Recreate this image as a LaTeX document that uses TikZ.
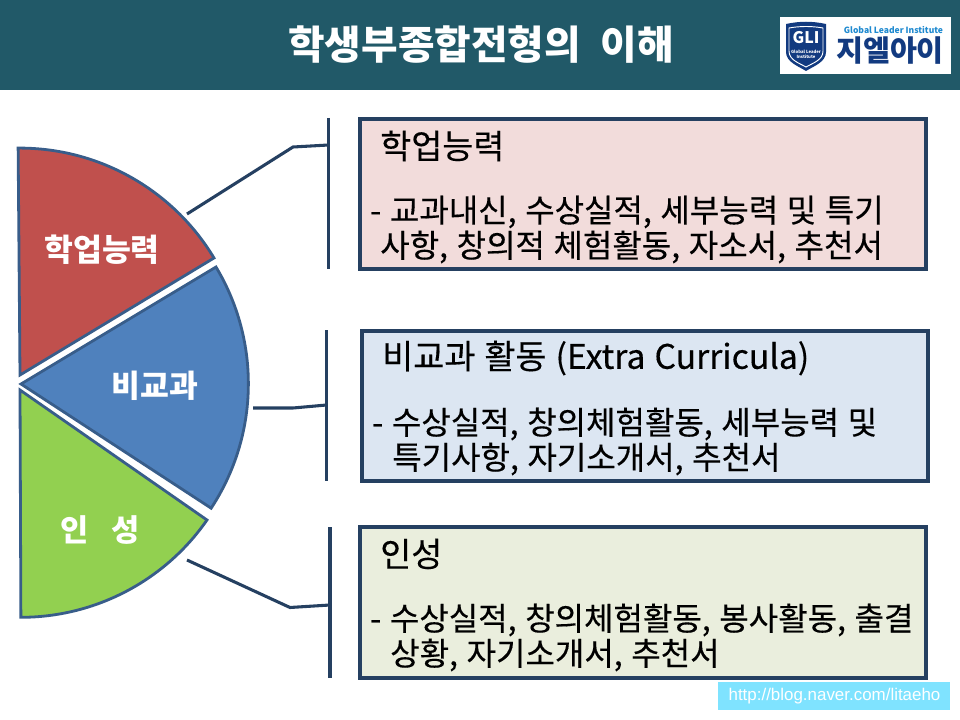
\documentclass[tikz,border=0pt]{standalone}
\usepackage{fontspec}
\setmainfont{Noto Sans CJK KR}
\newfontfamily\bodyfont[FakeBold=0.35,WordSpace=1.2]{Noto Sans CJK KR}
\newfontfamily\labfont[WordSpace=1.9]{Noto Sans CJK KR}
\newfontfamily\urlfont{Liberation Sans}
\definecolor{headbar}{HTML}{215968}
\definecolor{secline}{HTML}{385D8A}
\definecolor{conline}{HTML}{254061}
\definecolor{redfill}{HTML}{C0504D}
\definecolor{bluefill}{HTML}{4F81BD}
\definecolor{greenfill}{HTML}{92D050}
\definecolor{redbox}{HTML}{F2DCDB}
\definecolor{bluebox}{HTML}{DCE6F2}
\definecolor{greenbox}{HTML}{EAEEDD}
\definecolor{urlbg}{HTML}{7FE3FF}
\definecolor{logoblue}{HTML}{1F8AD0}
\definecolor{logonavy}{HTML}{123A80}
\tikzset{
  x=0.75pt,y=-0.75pt,
  sector/.style={draw=secline,line width=2.1pt,line join=miter},
  conn/.style={draw=conline,line width=2.3pt},
  infobox/.style={draw=conline,line width=2.3pt},
  seclabel/.style={text=white,font=\labfont\fontsize{23.5}{28}\selectfont\bfseries,inner sep=0pt},
  headtext/.style={anchor=west,text=black,font=\bodyfont\fontsize{25.3}{30}\selectfont,inner sep=0pt},
  bodytext/.style={anchor=west,text=black,font=\bodyfont\fontsize{24}{29}\selectfont,inner sep=0pt},
}
\begin{document}
\begin{tikzpicture}
\useasboundingbox (0,0) rectangle (960,720);
\fill[white] (0,0) rectangle (960,720);
% header
\fill[headbar] (0,0) rectangle (960,90);
\node[text=white,font=\fontsize{29.8}{34}\selectfont\bfseries,inner sep=0pt] (title) at (481,45) {학생부종합전형의 \hspace{8pt}이해};
% logo
\fill[white] (780,17) rectangle (951,74);
\fill[logonavy] (786,24) .. controls (800,21) and (812,21) .. (826,24) -- (826,52) .. controls (826,62) and (814,66) .. (806,71) .. controls (798,66) and (786,62) .. (786,52) -- cycle;
\draw[white,line width=0.7pt] (789,28) .. controls (800,26) and (812,26) .. (823,28) -- (823,51) .. controls (823,60) and (813,63) .. (806,67) .. controls (799,63) and (789,60) .. (789,51) -- cycle;
\node[text=white,font=\fontsize{12}{14}\selectfont\bfseries,inner sep=0pt] (logoshield) at (806,38) {GLI};
\node[text=white,font=\fontsize{3.2}{4}\selectfont\bfseries,inner sep=0pt,align=center] (logoshieldsub) at (806,54) {Global Leader\\Institute};
\node[text=logoblue,font=\fontsize{6.4}{8}\selectfont\bfseries,inner sep=0pt] (logosub) at (893.5,30) {Global Leader Institute};
\node[text=logonavy,font=\fontsize{22}{26}\selectfont\bfseries,inner sep=0pt] (logomain) at (890,51) {지엘아이};
% sectors
\draw[sector,fill=redfill] (20,375) -- (214,258) arc[start angle=31,end angle=90.4,radius=170pt] -- cycle;
\draw[sector,fill=bluefill] (21,384) -- (216,267) arc[start angle=31,end angle=-33.3,radius=170pt] -- cycle;
\draw[sector,fill=greenfill] (20,390) -- (207,520) arc[start angle=-34.8,end angle=-90,radius=170pt] -- cycle;
\node[seclabel] (lab1) at (102,250) {학업능력};
\node[seclabel] (lab2) at (155,386) {비교과};
\node[seclabel,font=\labfont\fontsize{23}{28}\selectfont\bfseries] (lab3) at (100,530) {인 \,\,성};
% brackets
\coordinate (b1t) at (328.5,118); \coordinate (b1b) at (328.5,269); \coordinate (b1m) at (328.5,145);
\coordinate (c1a) at (187,214); \coordinate (c1b) at (293,147);
\draw[conn] (b1t) -- (b1b);
\draw[conn] (c1a) -- (c1b) -- (b1m);
\coordinate (b2t) at (326.5,330); \coordinate (b2b) at (326.5,481); \coordinate (b2m) at (326.5,405);
\coordinate (c2a) at (253,408); \coordinate (c2b) at (293,408);
\draw[conn] (b2t) -- (b2b);
\draw[conn] (c2a) -- (c2b) -- (b2m);
\coordinate (b3t) at (330,527); \coordinate (b3b) at (330,678); \coordinate (b3m) at (330,605);
\coordinate (c3a) at (187,560); \coordinate (c3b) at (290,607.5);
\draw[conn] (b3t) -- (b3b);
\draw[conn] (c3a) -- (c3b) -- (b3m);
% boxes
\draw[infobox,fill=redbox] (360,119) rectangle (926,269);
\draw[infobox,fill=bluebox] (362,331) rectangle (928,481);
\draw[infobox,fill=greenbox] (360,527) rectangle (926,678);
\node[headtext] (h1) at (380,146) {학업능력};
\node[bodytext] (t1a) at (370,212) {- 교과내신, 수상실적, 세부능력 및 특기};
\node[bodytext] (t1b) at (380,247) {사항, 창의적 체험활동, 자소서, 추천서};
\node[headtext] (h2) at (382,358) {비교과 활동 (Extra Curricula)};
\node[bodytext] (t2a) at (372,424) {- 수상실적, 창의체험활동, 세부능력 및};
\node[bodytext] (t2b) at (392,459) {특기사항, 자기소개서, 추천서};
\node[headtext] (h3) at (380,554) {인성};
\node[bodytext] (t3a) at (370,620) {- 수상실적, 창의체험활동, 봉사활동, 출결};
\node[bodytext] (t3b) at (390,655) {상황, 자기소개서, 추천서};
% url
\fill[urlbg] (718,682) rectangle (950,710);
\node[text=white,font=\urlfont\fontsize{12.7}{15}\selectfont,inner sep=0pt] (url) at (834.5,696) {http://blog.naver.com/litaeho};
\end{tikzpicture}
\end{document}
